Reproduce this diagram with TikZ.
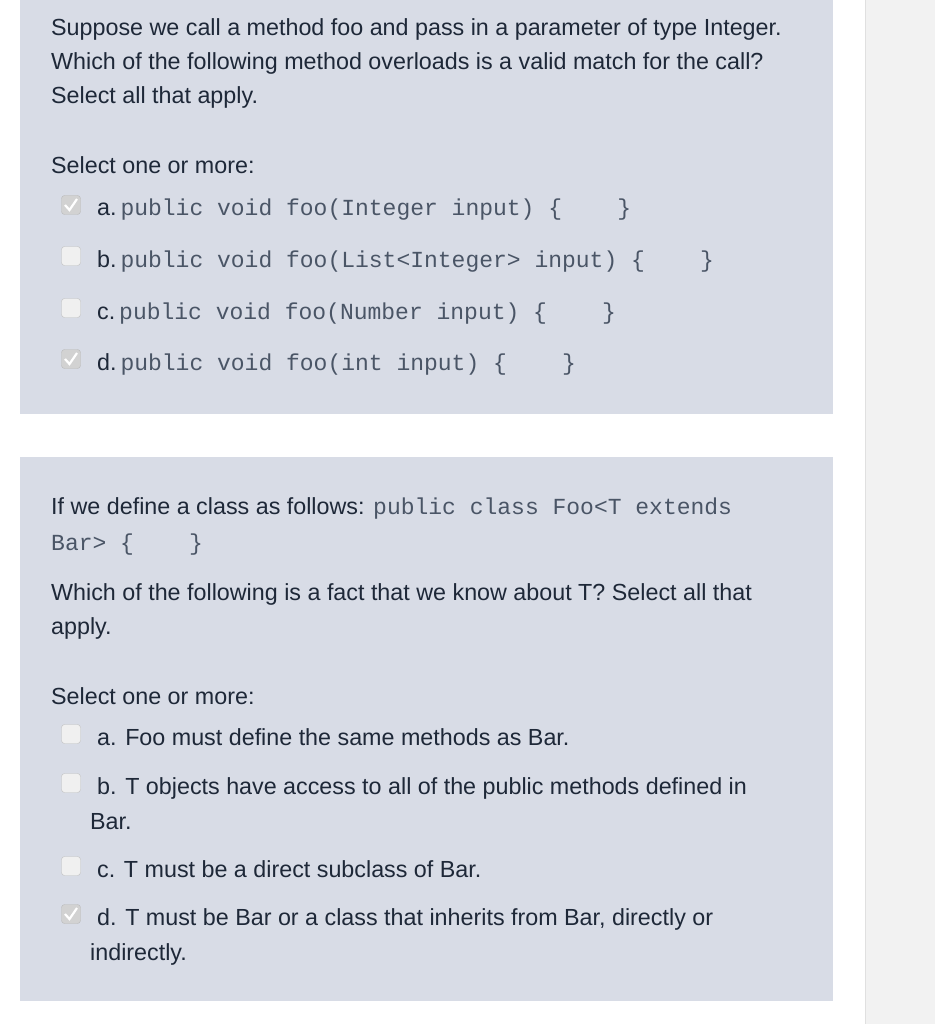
\documentclass[tikz,border=0pt]{standalone}
\usepackage{fontspec}
\setmainfont{Liberation Sans}
\setmonofont{Liberation Mono}
\begin{document}
\begin{tikzpicture}[x=1pt,y=-1pt,
  txt/.style={anchor=base west,inner sep=0pt,text=tc,font=\fontsize{23.3}{27}\selectfont},
  cbon/.style={draw=gray!55,fill=gray!35,rounded corners=3pt,minimum size=19pt,inner sep=0pt},
  cboff/.style={draw=gray!50,fill=black!6,rounded corners=3pt,minimum size=19pt,inner sep=0pt}]
\definecolor{bg}{HTML}{D8DCE6}
\definecolor{tc}{HTML}{1E2838}
\definecolor{mc}{HTML}{4A5566}
\newcommand{\mtt}[1]{{\color{mc}\fontsize{23}{26}\selectfont\ttfamily #1}}
\useasboundingbox (0,0) rectangle (935,1024);
\fill[white] (0,0) rectangle (935,1024);
\fill[black!5] (865,0) rectangle (935,1024);
\draw[black!12] (865,0) -- (865,1024);
\fill[bg] (20,0) rectangle (833,414);
\fill[bg] (20,457) rectangle (833,1001);
% panel 1
\node[txt] (q1) at (51,36) {Suppose we call a method foo and pass in a parameter of type Integer.};
\node[txt] (q2) at (51,70) {Which of the following method overloads is a valid match for the call?};
\node[txt] (q3) at (51,104) {Select all that apply.};
\node[txt] (s1) at (51,174) {Select one or more:};
\node[cbon] (ca) at (71,205) {};
\draw[white,line width=2.2pt] (65,205) -- (69.5,210) -- (77,199);
\node[txt] (oa) at (97,216) {a.\,\mtt{public~void~foo(Integer~input)~\{~~~~\}}};
\node[cboff] (cb) at (71,256) {};
\node[txt] (ob) at (97,267) {b.\,\mtt{public~void~foo(List<Integer>~input)~\{~~~~\}}};
\node[cboff] (cc) at (71,308) {};
\node[txt] (oc) at (97,319) {c.\,\mtt{public~void~foo(Number~input)~\{~~~~\}}};
\node[cbon] (cd) at (71,359) {};
\draw[white,line width=2.2pt] (65,359) -- (69.5,364) -- (77,353);
\node[txt] (od) at (97,370) {d.\,\mtt{public~void~foo(int~input)~\{~~~~\}}};
% panel 2
\node[txt] (p1) at (51,514) {If we define a class as follows: \mtt{public~class~Foo<T~extends}};
\node[txt] (p2) at (51,550) {\mtt{Bar>~\{~~~~\}}};
\node[txt] (p3) at (51,600) {Which of the following is a fact that we know about T? Select all that};
\node[txt] (p4) at (51,634) {apply.};
\node[txt] (s2) at (51,704) {Select one or more:};
\node[cboff] (ea) at (71,734) {};
\node[txt] (fa) at (97,745) {a. Foo must define the same methods as Bar.};
\node[cboff] (eb) at (71,783) {};
\node[txt] (fb) at (97,794) {b. T objects have access to all of the public methods defined in};
\node[txt] (fb2) at (90,829) {Bar.};
\node[cboff] (ec) at (71,866) {};
\node[txt] (fc) at (97,877) {c. T must be a direct subclass of Bar.};
\node[cbon] (ed) at (71,914) {};
\draw[white,line width=2.2pt] (65,914) -- (69.5,919) -- (77,908);
\node[txt] (fd) at (97,925) {d. T must be Bar or a class that inherits from Bar, directly or};
\node[txt] (fd2) at (90,960) {indirectly.};
\end{tikzpicture}
\end{document}
